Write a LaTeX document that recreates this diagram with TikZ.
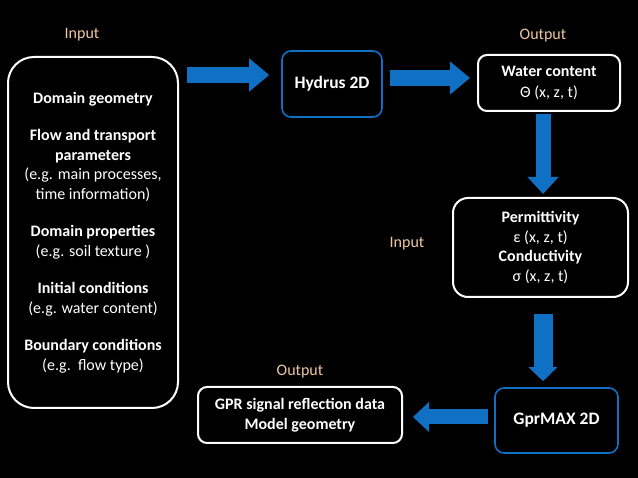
\documentclass[tikz,border=0pt]{standalone}
\usepackage{fontspec}
\setmainfont{Carlito}
\usetikzlibrary{arrows.meta,calc}
\definecolor{tan}{RGB}{238,200,160}
\definecolor{oblue}{RGB}{16,112,196}
\begin{document}
\begin{tikzpicture}[x=1pt,y=-1pt,
  wbox/.style={draw=white,line width=2pt,text=white,align=center,font=\fontsize{16}{19.5}\selectfont,inner sep=0pt},
  bbox/.style={draw=oblue,line width=1.6pt,text=white,align=center,font=\fontsize{17.5}{20}\selectfont\bfseries,inner sep=0pt,rounded corners=9pt},
  lbl/.style={text=tan,font=\fontsize{16}{19}\selectfont},
  bigarrow/.style={draw=oblue,line width=#1},
]
\fill[black] (0,0) rectangle (638,478);
\useasboundingbox (0,0) rectangle (638,478);

\node[lbl] (lin) at (82,35) {Input};
\node[lbl] (lout1) at (543,36) {Output};
\node[lbl] (lin2) at (407,244) {Input};
\node[lbl] (lout2) at (300,372) {Output};

\node[wbox,rounded corners=26pt,minimum width=170pt,minimum height=351pt] (inbox) at (93,232.5)
 {\textbf{Domain geometry}\\[18pt]
  \textbf{Flow and transport}\\ \textbf{parameters}\\ (e.g. main processes,\\ time information)\\[18pt]
  \textbf{Domain properties}\\ (e.g. soil texture )\\[18pt]
  \textbf{Initial conditions}\\ (e.g. water content)\\[18pt]
  \textbf{Boundary conditions}\\ (e.g.\ \ flow type)};

\node[bbox,minimum width=100pt,minimum height=66pt] (hyd) at (332,84) {Hydrus 2D};
\node[wbox,rounded corners=9pt,minimum width=142pt,minimum height=56pt,font=\fontsize{16}{20.5}\selectfont] (wc) at (549,83)
 {\textbf{Water content}\\ Θ (x, z, t)};
\node[wbox,rounded corners=15pt,minimum width=175pt,minimum height=99pt] (perm) at (540.5,247.5)
 {\textbf{Permittivity}\\ ε (x, z, t)\\ \textbf{Conductivity}\\ σ (x, z, t)};
\node[bbox,minimum width=123pt,minimum height=65pt] (gpr) at (556.5,420.5) {GprMAX 2D};
\node[wbox,rounded corners=9pt,minimum width=204pt,minimum height=56pt] (out) at (300,415)
 {\textbf{GPR signal reflection data}\\ \textbf{Model geometry}};

\draw[bigarrow=16pt,-{Triangle[width=32pt,length=20pt]}]
  ($(inbox.east |- hyd.west)+(8,-9)$) -- ($(hyd.west)+(-12,-9)$);
\draw[bigarrow=16pt,-{Triangle[width=32pt,length=20pt]}]
  ($(hyd.east)+(7,-6)$) -- ($(wc.west |- hyd.east)+(-7,-6)$);
\draw[bigarrow=15pt,-{Triangle[width=30pt,length=17pt]}]
  ($(perm.north |- wc.south)+(2.5,2)$) -- ($(perm.north)+(2.5,-3)$);
\draw[bigarrow=19pt,-{Triangle[width=28pt,length=14pt]}]
  ($(perm.south)+(2.5,16)$) -- ($(gpr.north)+(-13.5,-6)$);
\draw[bigarrow=15pt,-{Triangle[width=29pt,length=16pt]}]
  ($(gpr.west)+(-6,-3.5)$) -- ($(out.east |- gpr.west)+(10,-3.5)$);
\end{tikzpicture}
\end{document}
